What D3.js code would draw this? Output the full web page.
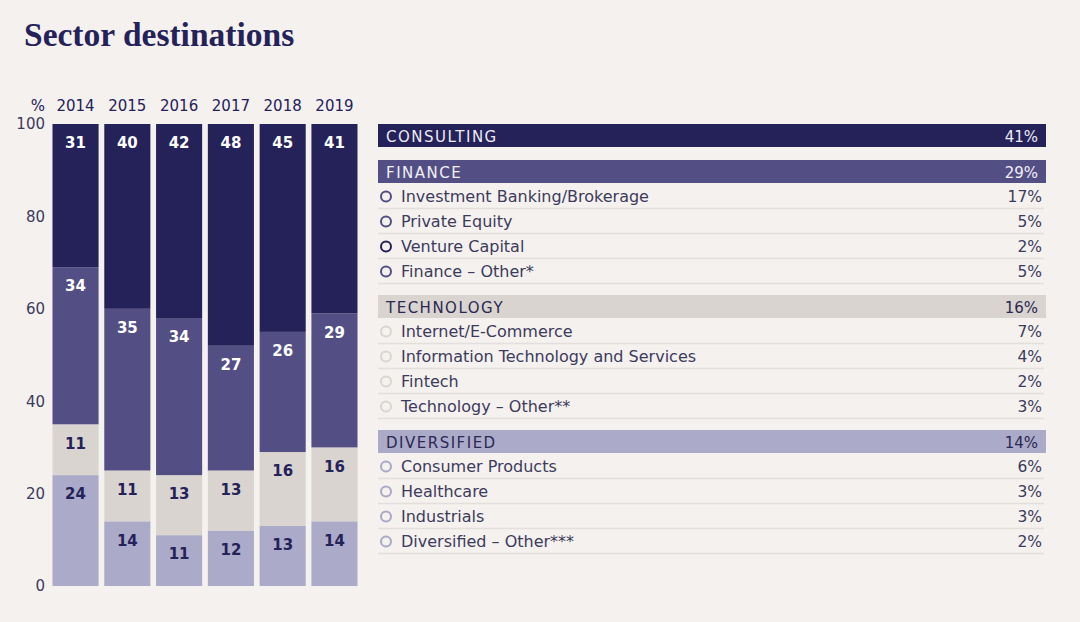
<!DOCTYPE html>
<html>
<head>
<meta charset="utf-8">
<script src="https://cdn.jsdelivr.net/npm/d3@7"></script>
<style>
	html, body { margin: 0; padding: 0; background: #f4f1ef; }
	svg { display: block; }
</style>
</head>
<body>
<svg width="1080" height="622"></svg>
<script>

// bar chart data (share of graduates, %)
const years = [ '2014', '2015', '2016', '2017', '2018', '2019' ],
	sectors = [ 'Consulting', 'Finance', 'Technology', 'Diversified' ],
	consulting = [ 31, 40, 42, 48, 45, 41 ],
	finance = [ 34, 35, 34, 27, 26, 29 ],
	technology = [ 11, 11, 13, 13, 16, 16 ],
	diversified = [ 24, 14, 11, 12, 13, 14 ],
	yTicks = [ 0, 20, 40, 60, 80, 100 ]

// table on the right (2019 breakdown)
const groupNames = [ 'CONSULTING', 'FINANCE', 'TECHNOLOGY', 'DIVERSIFIED' ],
	groupValues = [ 41, 29, 16, 14 ],
	financeItems = [ 'Investment Banking/Brokerage', 'Private Equity', 'Venture Capital', 'Finance – Other*' ],
	financeValues = [ 17, 5, 2, 5 ],
	techItems = [ 'Internet/E-Commerce', 'Information Technology and Services', 'Fintech', 'Technology – Other**' ],
	techValues = [ 7, 4, 2, 3 ],
	divItems = [ 'Consumer Products', 'Healthcare', 'Industrials', 'Diversified – Other***' ],
	divValues = [ 6, 3, 3, 2 ]

const svg = d3.select( 'svg' ),
	font = '"DejaVu Sans", sans-serif',
	navy = '#25225a',
	textCol = '#3d3b5c',
	color = d3.scaleOrdinal()
		.domain( sectors )
		.range( [ '#25225a', '#534f85', '#d9d4cf', '#abaac9' ] ),
	labelCol = d3.scaleOrdinal()
		.domain( sectors )
		.range( [ '#ffffff', '#ffffff', navy, navy ] )

svg.append( 'text' )
	.attr( 'x', 24 )
	.attr( 'y', 46 )
	.attr( 'font-family', '"Liberation Serif", serif' )
	.attr( 'font-weight', 'bold' )
	.attr( 'font-size', 33.5 )
	.attr( 'fill', navy )
	.text( 'Sector destinations' )

// ---- stacked bars
const x = d3.scaleBand()
		.domain( years )
		.range( [ 52.5, 357.5 ] )
		.paddingInner( 0.11 )
		.paddingOuter( 0 ),
	y = d3.scaleLinear()
		.domain( [ 0, 100 ] )
		.range( [ 586, 124 ] )

// stack from the top down: consulting on top
const rows = years.map( ( yr, i ) => ( {
	year: yr,
	Consulting: consulting[ i ],
	Finance: finance[ i ],
	Technology: technology[ i ],
	Diversified: diversified[ i ]
} ) )

const stack = d3.stack()
	.keys( sectors.slice().reverse() )( rows )

const layer = svg.append( 'g' )
	.selectAll( 'g' )
	.data( stack )
	.enter()
	.append( 'g' )
	.attr( 'fill', d => color( d.key ) )

layer.selectAll( 'rect' )
	.data( d => d )
	.enter()
	.append( 'rect' )
	.attr( 'x', d => x( d.data.year ) )
	.attr( 'y', d => y( d[ 1 ] ) )
	.attr( 'width', x.bandwidth() )
	.attr( 'height', d => y( d[ 0 ] ) - y( d[ 1 ] ) )

layer.selectAll( 'text' )
	.data( d => d.map( e => Object.assign( { key: d.key }, e ) ) )
	.enter()
	.append( 'text' )
	.attr( 'x', d => x( d.data.year ) + x.bandwidth() / 2 )
	.attr( 'y', d => y( d[ 1 ] ) + 19 )
	.attr( 'dy', '0.35em' )
	.attr( 'text-anchor', 'middle' )
	.attr( 'font-family', font )
	.attr( 'font-weight', 'bold' )
	.attr( 'font-size', 15 )
	.attr( 'fill', d => labelCol( d.key ) )
	.text( d => d.data[ d.key ] )

// y axis, no lines
const yAxis = svg.append( 'g' )
	.attr( 'transform', 'translate(45,0)' )
	.call( d3.axisLeft( y ).tickValues( yTicks ).tickSize( 0 ).tickPadding( 0 ) )

yAxis.select( '.domain' ).remove()
yAxis.selectAll( 'text' )
	.attr( 'font-family', font )
	.attr( 'font-size', 15 )
	.attr( 'fill', textCol )

// years on top
const xAxis = svg.append( 'g' )
	.attr( 'transform', 'translate(0,106)' )
	.call( d3.axisTop( x ).tickSize( 0 ).tickPadding( 0 ) )

xAxis.select( '.domain' ).remove()
xAxis.selectAll( 'text' )
	.attr( 'dy', '0.35em' )
	.attr( 'font-family', font )
	.attr( 'font-size', 15 )
	.attr( 'fill', navy )

svg.append( 'text' )
	.attr( 'x', 45 )
	.attr( 'y', 106 )
	.attr( 'dy', '0.35em' )
	.attr( 'text-anchor', 'end' )
	.attr( 'font-family', font )
	.attr( 'font-size', 15 )
	.attr( 'fill', navy )
	.text( '%' )

// ---- table
const groups = [
	{ name: groupNames[ 0 ], value: groupValues[ 0 ], key: 'Consulting', items: [], values: [] },
	{ name: groupNames[ 1 ], value: groupValues[ 1 ], key: 'Finance', items: financeItems, values: financeValues },
	{ name: groupNames[ 2 ], value: groupValues[ 2 ], key: 'Technology', items: techItems, values: techValues },
	{ name: groupNames[ 3 ], value: groupValues[ 3 ], key: 'Diversified', items: divItems, values: divValues }
]

const tX0 = 378,
	tX1 = 1046,
	headH = 23,
	rowH = 25,
	headText = d3.scaleOrdinal()
		.domain( sectors )
		.range( [ '#eceaf3', '#f1eff6', '#2b2852', '#2b2852' ] ),
	ringCol = d3.scaleOrdinal()
		.domain( sectors )
		.range( [ navy, '#534f85', '#dad5d0', '#a9a8c6' ] )

const table = svg.append( 'g' )
let ty = 124

groups.forEach( ( g, gi ) => {

	table.append( 'rect' )
		.attr( 'x', tX0 )
		.attr( 'y', ty )
		.attr( 'width', tX1 - tX0 )
		.attr( 'height', headH )
		.attr( 'fill', color( g.key ) )

	table.append( 'text' )
		.attr( 'x', tX0 + 8 )
		.attr( 'y', ty + headH / 2 + 1 )
		.attr( 'dy', '0.35em' )
		.attr( 'font-family', font )
		.attr( 'font-size', 15 )
		.attr( 'letter-spacing', 1.5 )
		.attr( 'fill', headText( g.key ) )
		.text( g.name )

	table.append( 'text' )
		.attr( 'x', tX1 - 8 )
		.attr( 'y', ty + headH / 2 + 1 )
		.attr( 'dy', '0.35em' )
		.attr( 'text-anchor', 'end' )
		.attr( 'font-family', font )
		.attr( 'font-size', 15 )
		.attr( 'fill', headText( g.key ) )
		.text( g.value + '%' )

	ty += headH

	g.items.forEach( ( item, i ) => {

		const cy = ty + rowH / 2 + 1

		table.append( 'circle' )
			.attr( 'cx', tX0 + 8 )
			.attr( 'cy', cy )
			.attr( 'r', 5 )
			.attr( 'fill', 'none' )
			.attr( 'stroke', item === 'Venture Capital' ? navy : ringCol( g.key ) )
			.attr( 'stroke-width', 2 )

		table.append( 'text' )
			.attr( 'x', tX0 + 23 )
			.attr( 'y', cy )
			.attr( 'dy', '0.35em' )
			.attr( 'font-family', font )
			.attr( 'font-size', 16 )
			.attr( 'fill', textCol )
			.text( item )

		table.append( 'text' )
			.attr( 'x', tX1 - 4 )
			.attr( 'y', cy )
			.attr( 'dy', '0.35em' )
			.attr( 'text-anchor', 'end' )
			.attr( 'font-family', font )
			.attr( 'font-size', 15.5 )
			.attr( 'fill', textCol )
			.text( g.values[ i ] + '%' )

		table.append( 'line' )
			.attr( 'x1', tX0 )
			.attr( 'x2', tX1 - 2 )
			.attr( 'y1', ty + rowH + 0.5 )
			.attr( 'y2', ty + rowH + 0.5 )
			.attr( 'stroke', '#e3dfdc' )
			.attr( 'stroke-width', 1.5 )

		ty += rowH

	})

	ty += gi === 0 ? 13 : 12

})

</script>
</body>
</html>
